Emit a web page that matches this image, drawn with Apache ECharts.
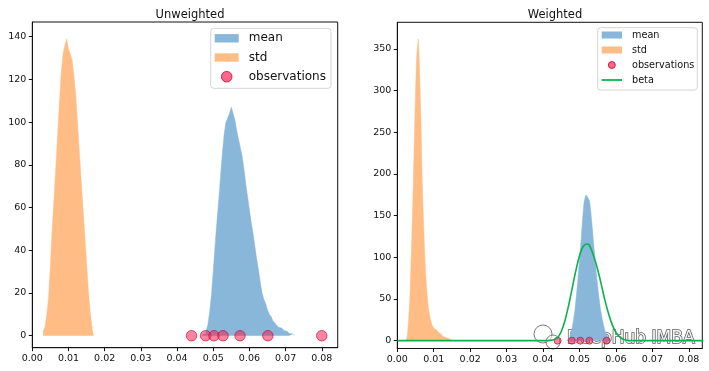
<!DOCTYPE html>
<html>
<head>
<meta charset="utf-8">
<script src="https://cdn.jsdelivr.net/npm/echarts@6/dist/echarts.min.js"></script>
<style>
html,body{margin:0;padding:0;background:#fff;}
#chart{width:709px;height:371px;}
</style>
</head>
<body>
<div id="chart"></div>
<script>
// ---------------- DATA ----------------
const titles = ['Unweighted', 'Weighted'];
const seriesNames = ['mean', 'std', 'observations', 'beta'];

// tick labels
const xTicks = [0.00, 0.01, 0.02, 0.03, 0.04, 0.05, 0.06, 0.07, 0.08];
const uwYTicks = [0, 20, 40, 60, 80, 100, 120, 140];
const wYTicks = [0, 50, 100, 150, 200, 250, 300, 350];

// Unweighted "std" histogram: bins of 0.0005 starting at 0.0030
const uwStdStart = 0.0030, uwStdWidth = 0.0005;
const uwStdCounts = [2, 4, 10, 18, 33, 50, 64, 79, 94, 109, 123, 132, 136, 139,
  134, 132, 129, 122, 113, 100, 86, 73, 60, 47, 34, 21, 11, 4];

// Unweighted "mean" histogram: bins of 0.0005 starting at 0.0470
const uwMeanStart = 0.0470, uwMeanWidth = 0.0005;
const uwMeanCounts = [0.5, 1, 2, 5, 11, 19, 30, 42, 53, 63, 74, 85, 94, 100, 102, 104,
  107, 104, 101, 96, 92, 88, 84, 78, 71, 65, 59, 53, 48, 42, 36, 31, 25, 20, 17, 15,
  12, 10, 9, 7, 6, 5, 4, 3.5, 3, 2.5, 2, 1.5, 1, 0.8, 0.4];

// Weighted "std" histogram: bins of 0.00025 starting at 0.0025
const wStdStart = 0.0025, wStdWidth = 0.00025;
const wStdCounts = [1, 6, 19, 35, 55, 90, 125, 165, 210, 255, 298, 335, 352, 362,
  340, 302, 262, 208, 168, 136, 106, 84, 65, 52, 40, 33, 27, 23, 19, 17, 15, 14, 13,
  12, 11, 10, 9, 8, 7, 6, 5, 4.5, 4, 3.5, 3, 2.5, 2, 1.5, 1, 0.5];

// Weighted "mean" histogram: bins of 0.00025 starting at 0.0465
const wMeanStart = 0.0465, wMeanWidth = 0.00025;
const wMeanCounts = [0.5, 1, 2, 4, 7, 11, 16, 22, 29, 37, 48, 59, 70, 84, 97, 110,
  124, 140, 154, 166, 171, 175, 174, 172, 170, 168, 159, 148, 136, 123, 111, 99, 87,
  75, 65, 55, 46, 38, 32, 26, 21, 16, 12, 9, 7, 5, 3.5, 2, 1, 0.5];

// observations (plotted at y = 0)
const uwObs = [0.0440, 0.0479, 0.0502, 0.0527, 0.0574, 0.0651, 0.0800];
const wObs = [0.0440, 0.0479, 0.0502, 0.0527, 0.0574];

// beta pdf curve (weighted panel), x and y
const betaX = [0.000, 0.040, 0.042, 0.043, 0.044, 0.045, 0.046, 0.047, 0.048, 0.049,
  0.050, 0.051, 0.052, 0.0525, 0.053, 0.054, 0.055, 0.056, 0.057, 0.058, 0.059,
  0.060, 0.061, 0.062, 0.063, 0.064, 0.066, 0.084];
const betaY = [0, 0, 0.3, 1, 3.5, 11, 24, 42, 63, 84, 102, 113, 116, 115.5, 112,
  100, 85, 67, 48, 32, 19, 10, 4.5, 1.8, 0.6, 0.2, 0, 0];

// ---------------- CHART ----------------
// histogram outline as step points at bin edges: [edge_i, count_i], closing edge repeats last count
function stepPoints(start, width, counts) {
  const pts = counts.map((c, i) => [start + i * width, c]);
  pts.push([start + counts.length * width, counts[counts.length - 1]]);
  return pts;
}
const FONT = 'DejaVu Sans';
const BLUE = '#88b7d9';
const ORANGE = '#ffbd85';
const GREEN = '#0bb14c';
const OBS_FILL = 'rgba(245,30,80,0.68)';
const OBS_EDGE = 'rgba(200,0,50,0.8)';

function histSeries(name, data, color, idx) {
  return {
    name: name, type: 'line', xAxisIndex: idx, yAxisIndex: idx,
    data: data, step: 'end', showSymbol: false, symbol: 'none', z: 2,
    lineStyle: { width: 0.5, color: color },
    areaStyle: { color: color, opacity: 1, origin: 0 },
    clip: true
  };
}

function xAxis(idx, max) {
  return {
    type: 'value', gridIndex: idx, min: 0, max: max,
    axisLine: { onZero: false, lineStyle: { color: '#111', width: 1 } },
    axisTick: { inside: false, length: 3.5, customValues: xTicks, lineStyle: { color: '#111' } },
    axisLabel: { customValues: xTicks, formatter: v => v.toFixed(2), fontFamily: FONT, fontSize: 9.5, color: '#111', margin: 6 },
    splitLine: { show: false }
  };
}
function yAxis(idx, min, max, ticks) {
  return {
    type: 'value', gridIndex: idx, min: min, max: max,
    axisLine: { show: true, onZero: false, lineStyle: { color: '#111', width: 1 } },
    axisTick: { show: true, inside: false, length: 3.5, customValues: ticks, lineStyle: { color: '#111' } },
    axisLabel: { customValues: ticks, formatter: v => String(Math.round(v)), fontFamily: FONT, fontSize: 9.5, color: '#111', margin: 6 },
    splitLine: { show: false }
  };
}

// legend built from graphic elements
function legendGroup(x, y, w, h, entries, fontSize, patchW, patchH, rowStep, firstRow, circleR) {
  const children = [{
    type: 'rect', shape: { x: 0, y: 0, width: w, height: h, r: 3 },
    style: { fill: 'rgba(255,255,255,0.85)', stroke: '#d4d4d4', lineWidth: 1 }
  }];
  entries.forEach((e, i) => {
    const cy = firstRow + i * rowStep;
    const px = 4;
    if (e.kind === 'patch') {
      children.push({ type: 'rect', shape: { x: px, y: cy - patchH / 2, width: patchW, height: patchH }, style: { fill: e.color } });
    } else if (e.kind === 'circle') {
      children.push({ type: 'circle', shape: { cx: px + patchW / 2, cy: cy, r: circleR }, style: { fill: OBS_FILL, stroke: OBS_EDGE, lineWidth: 1 } });
    } else {
      children.push({ type: 'line', shape: { x1: px, y1: cy, x2: px + patchW, y2: cy }, style: { stroke: GREEN, lineWidth: 1.8 } });
    }
    children.push({ type: 'text', x: px + patchW + 10, y: cy, style: { text: e.name, fontFamily: FONT, fontSize: fontSize, fill: '#111', verticalAlign: 'middle', textAlign: 'left' } });
  });
  return { type: 'group', x: x, y: y, z: 100, children: children };
}

const chart = echarts.init(document.getElementById('chart'), null, { renderer: 'canvas' });
chart.setOption({
  animation: false,
  backgroundColor: '#fff',
  title: [
    { text: titles[0], left: 185, top: 4, textAlign: 'center', textStyle: { fontFamily: FONT, fontSize: 11.5, fontWeight: 'normal', color: '#111' } },
    { text: titles[1], left: 550, top: 4, textAlign: 'center', textStyle: { fontFamily: FONT, fontSize: 11.5, fontWeight: 'normal', color: '#111' } }
  ],
  grid: [
    { left: 32.3, right: 371.3, top: 22, bottom: 23.3, show: true, borderColor: '#111', borderWidth: 1, backgroundColor: 'transparent', containLabel: false },
    { left: 397.3, right: 6.7, top: 22.3, bottom: 22.5, show: true, borderColor: '#111', borderWidth: 1, backgroundColor: 'transparent', containLabel: false }
  ],
  xAxis: [xAxis(0, 0.0844), xAxis(1, 0.0837)],
  yAxis: [yAxis(0, -5.6, 146.9, uwYTicks), yAxis(1, -9.4, 382, wYTicks)],
  series: [
    histSeries(seriesNames[0], stepPoints(uwMeanStart, uwMeanWidth, uwMeanCounts), BLUE, 0),
    histSeries(seriesNames[1], stepPoints(uwStdStart, uwStdWidth, uwStdCounts), ORANGE, 0),
    {
      name: seriesNames[2], type: 'scatter', xAxisIndex: 0, yAxisIndex: 0, z: 5,
      data: uwObs.map(v => [v, 0]), symbol: 'circle', symbolSize: 10.5,
      itemStyle: { color: OBS_FILL, borderColor: OBS_EDGE, borderWidth: 1 }
    },
    histSeries(seriesNames[0], stepPoints(wMeanStart, wMeanWidth, wMeanCounts), BLUE, 1),
    histSeries(seriesNames[1], stepPoints(wStdStart, wStdWidth, wStdCounts), ORANGE, 1),
    {
      name: seriesNames[2], type: 'scatter', xAxisIndex: 1, yAxisIndex: 1, z: 5,
      data: wObs.map(v => [v, 0]), symbol: 'circle', symbolSize: 7,
      itemStyle: { color: OBS_FILL, borderColor: OBS_EDGE, borderWidth: 1 }
    },
    {
      name: seriesNames[3], type: 'line', xAxisIndex: 1, yAxisIndex: 1, z: 6,
      data: betaX.map((x, i) => [x, betaY[i]]), smooth: 0.3, showSymbol: false, symbol: 'none',
      lineStyle: { color: GREEN, width: 1.6 }, clip: true
    }
  ],
  graphic: [
    legendGroup(210.7, 28.3, 120.3, 60, [
      { kind: 'patch', name: 'mean', color: BLUE },
      { kind: 'patch', name: 'std', color: ORANGE },
      { kind: 'circle', name: 'observations' }
    ], 12, 24, 8.4, 19.2, 10, 5.3),
    legendGroup(597.7, 27.7, 99.6, 62.3, [
      { kind: 'patch', name: 'mean', color: BLUE },
      { kind: 'patch', name: 'std', color: ORANGE },
      { kind: 'circle', name: 'observations' },
      { kind: 'line', name: 'beta' }
    ], 9.7, 20.3, 7, 15, 7.3, 3.5),
    {
      type: 'group', z: 200, children: [
        { type: 'circle', shape: { cx: 543, cy: 334, r: 9 }, style: { fill: 'rgba(255,255,255,0.6)', stroke: 'rgba(90,90,90,0.8)', lineWidth: 1 } },
        { type: 'circle', shape: { cx: 553, cy: 342, r: 7 }, style: { fill: 'rgba(255,255,255,0.6)', stroke: 'rgba(90,90,90,0.8)', lineWidth: 1 } },
        { type: 'text', x: 567, y: 339, style: { text: 'DeepHub IMBA', fontFamily: FONT, fontSize: 17, fill: 'rgba(255,255,255,0.95)', stroke: 'rgba(70,70,70,0.9)', lineWidth: 1.5, verticalAlign: 'middle', textAlign: 'left' } }
      ]
    }
  ]
});
</script>
</body>
</html>
